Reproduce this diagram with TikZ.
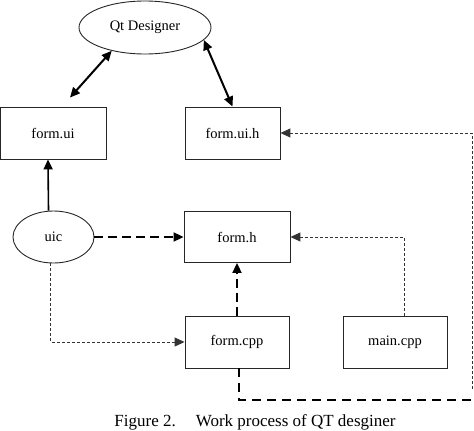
\documentclass[tikz,border=0pt]{standalone}
\usepackage{fontspec}
\setmainfont{Liberation Serif}
\usetikzlibrary{arrows.meta,shapes.geometric,calc}
\begin{document}
\begin{tikzpicture}[x=1pt,y=-1pt,
  box/.style={draw=black!85,line width=0.9pt,rectangle,minimum width=105pt,minimum height=52pt,inner sep=0pt,font=\fontsize{14.5}{16}\selectfont},
  oval/.style={draw=black!85,line width=0.9pt,ellipse,inner sep=0pt,font=\fontsize{14.5}{16}\selectfont},
  tip/.style={-{Triangle[length=10pt,width=9pt]}},
  dtip/.style={{Triangle[length=10pt,width=9pt]}-{Triangle[length=10pt,width=9pt]}},
  solidarr/.style={line width=2pt},
  thickdash/.style={line width=2pt,dash pattern=on 9pt off 5pt},
  longdash/.style={line width=1.6pt,dash pattern=on 9pt off 6pt},
  finedot/.style={line width=1pt,draw=black!80,dash pattern=on 3pt off 2pt}
]
\useasboundingbox (0,0) rectangle (474,431);
\node[oval,minimum width=132pt,minimum height=53pt] (qt) at (145,27.5) {Qt Designer};
\node[box,minimum width=106pt] (formui) at (53,133) {form.ui};
\node[box,minimum width=95pt] (formuih) at (232.5,133) {form.ui.h};
\node[oval,minimum width=81pt,minimum height=52pt] (uic) at (53.5,237) {uic};
\node[box,minimum width=106pt,minimum height=51pt] (formh) at (237,237) {form.h};
\node[box,minimum width=104pt] (formcpp) at (237,342) {form.cpp};
\node[box,minimum width=104pt] (maincpp) at (395,342) {main.cpp};
\coordinate (c1) at (472,400);
\coordinate (c2) at (472,389);
\node[font=\fontsize{17}{20}\selectfont,anchor=base] (cap) at (255,426) {Figure 2.\hspace*{20pt}Work process of QT desginer};

\draw[dtip,solidarr] (qt.215) -- ([shift={(17,-9)}]formui.north);
\draw[dtip,solidarr] (qt.348) -- (formuih.north);
\draw[tip,line width=1.6pt] ([xshift=-5pt]uic.north) -- ([xshift=-5pt]formui.south);
\draw[tip,thickdash] (uic.east) -- (formh.west);
\draw[tip,thickdash] (formcpp.north) -- (formh.south);
\draw[tip,finedot] ([xshift=-3pt]uic.south) |- (formcpp.west);
\draw[tip,finedot] ([xshift=9pt]maincpp.north) |- (formh.east);
\draw[longdash] ([xshift=2pt]formcpp.south) |- (c1);
\draw[tip,finedot] (c2) |- (formuih.east);
\end{tikzpicture}
\end{document}
